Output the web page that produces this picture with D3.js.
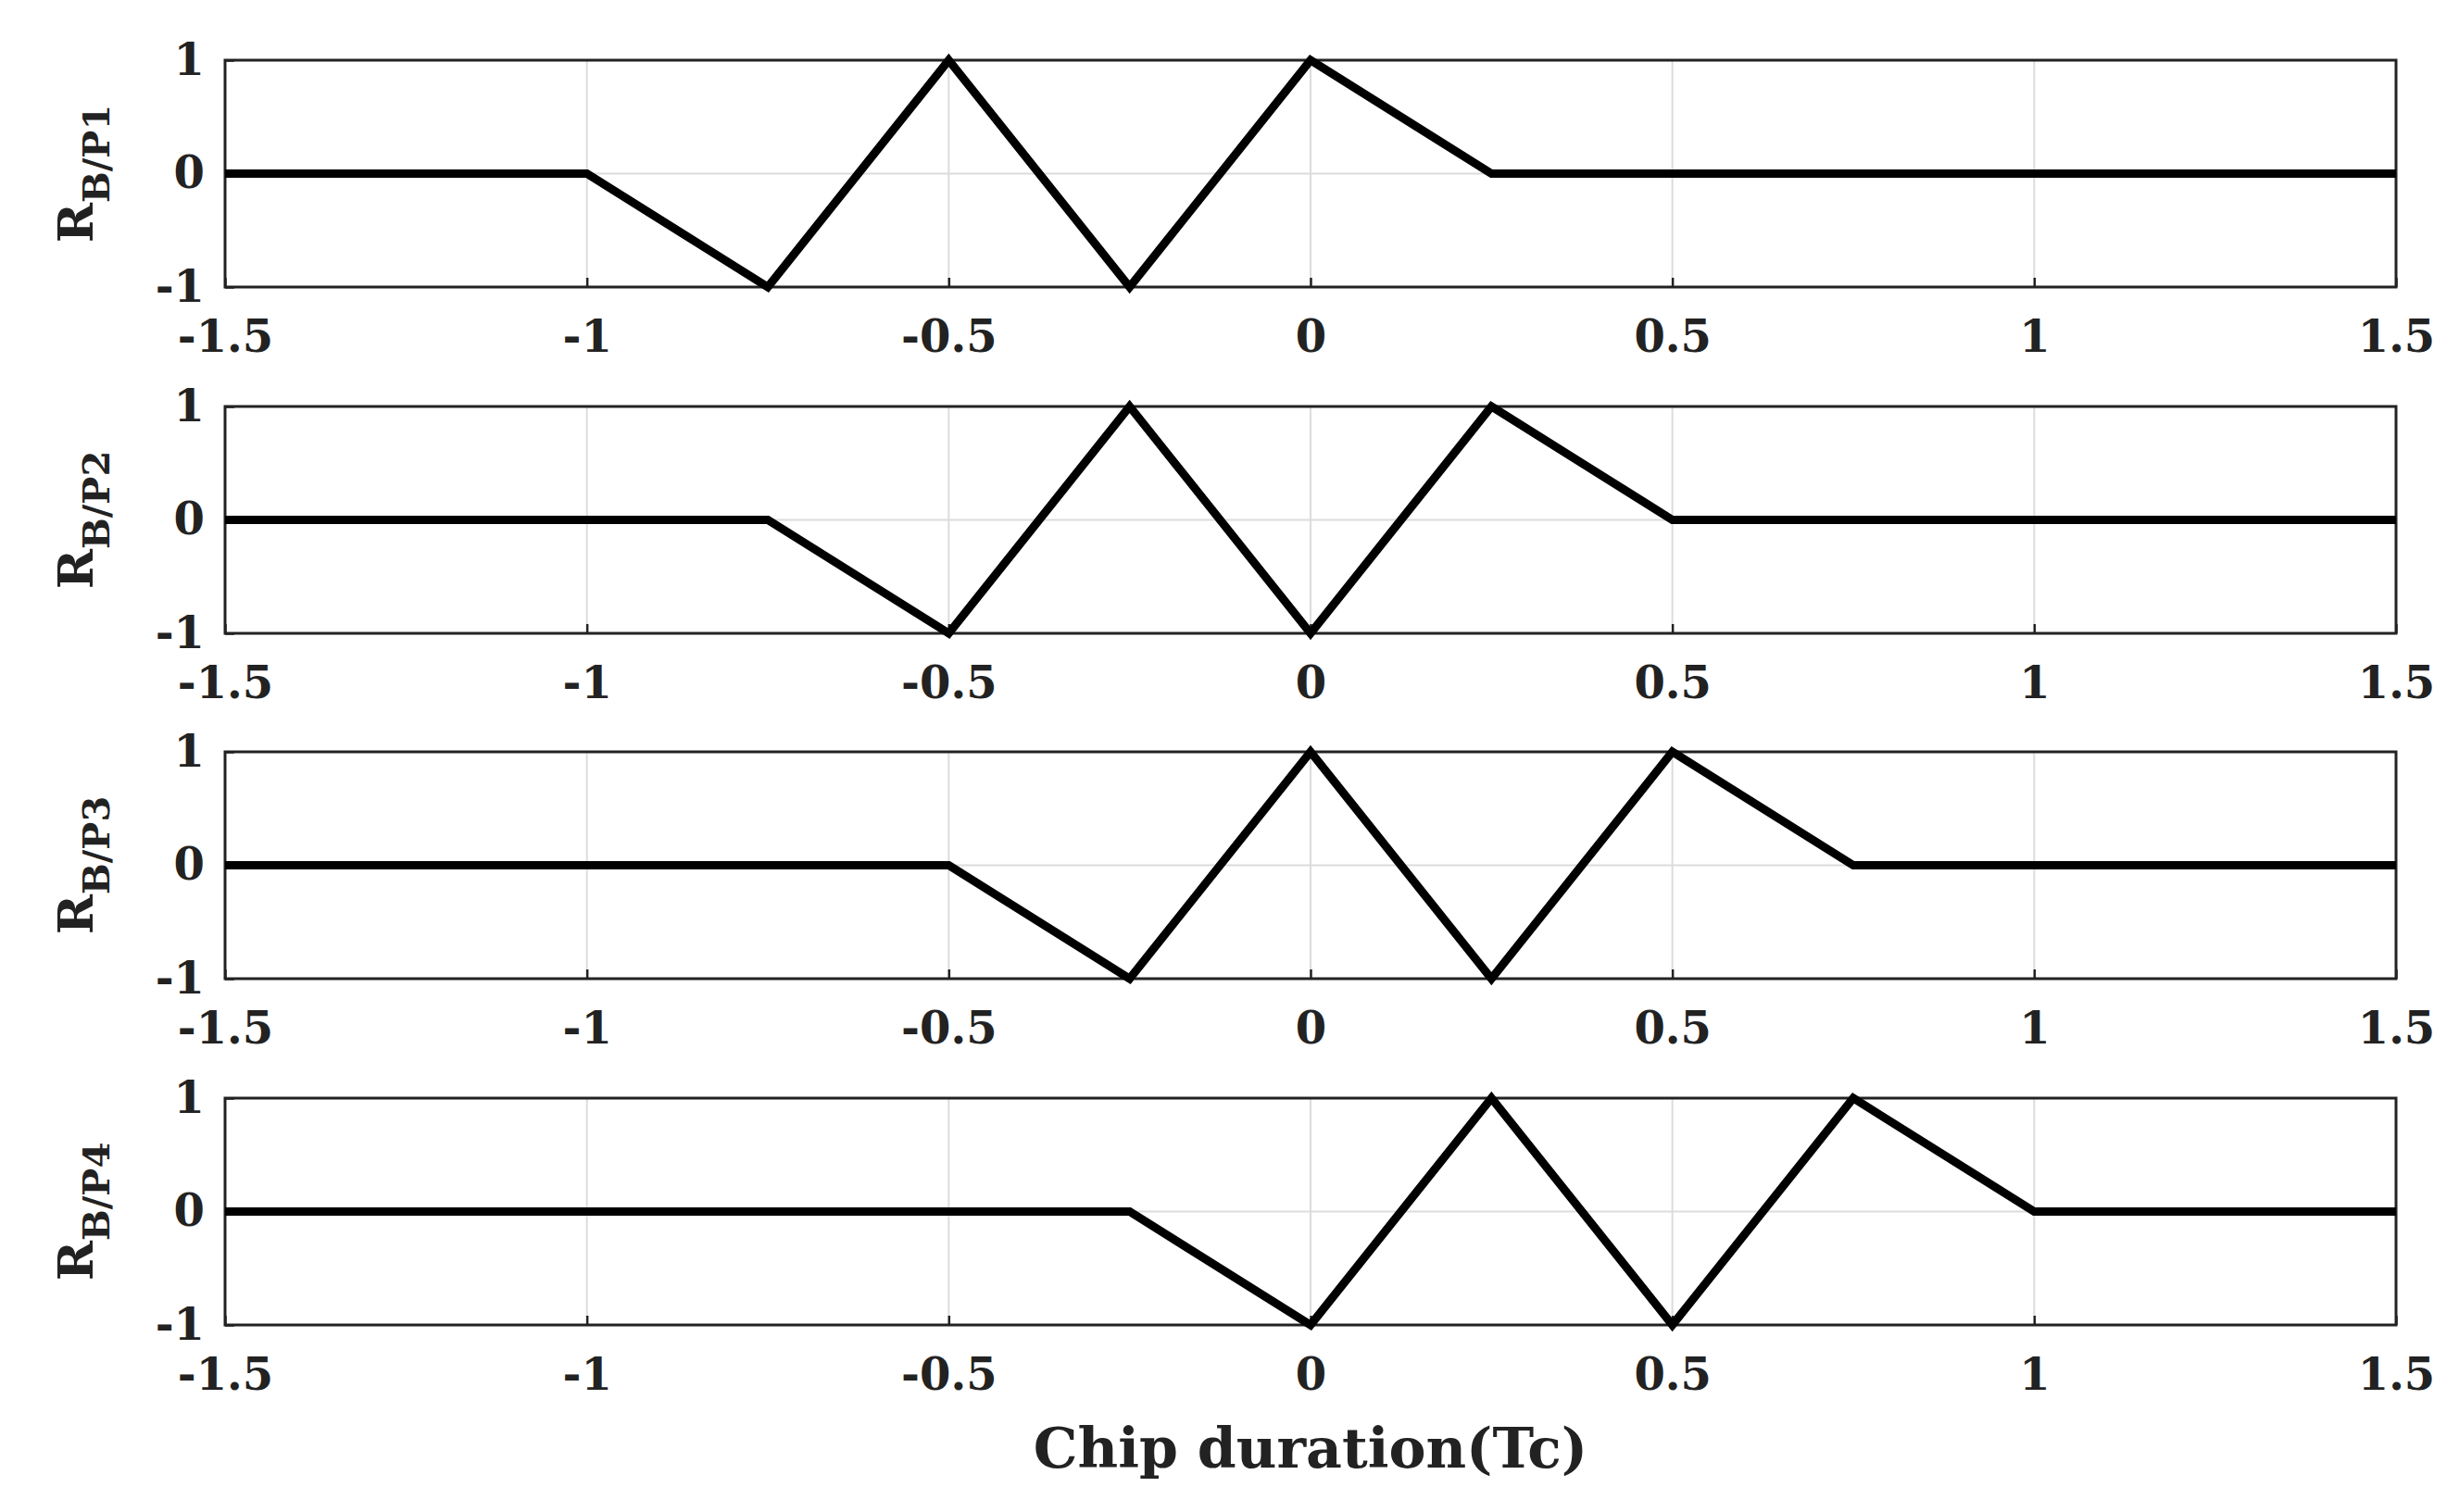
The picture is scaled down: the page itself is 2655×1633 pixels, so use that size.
<!DOCTYPE html>
<html><head><meta charset="utf-8">
<script src="https://cdn.jsdelivr.net/npm/d3@7"></script>
<style>body{margin:0;background:#fff}</style>
</head><body><div id="chart"></div>
<script>
// data
const xTicks = [-1.5, -1, -0.5, 0, 0.5, 1, 1.5];
const yTicks = [-1, 0, 1];
const labels = ["B/P1", "B/P2", "B/P3", "B/P4"];
const p1x = [-1.5, -1, -0.75, -0.5, -0.25, 0, 0.25, 1.5];
const p1y = [0, 0, -1, 1, -1, 1, 0, 0];
const p2x = [-1.5, -0.75, -0.5, -0.25, 0, 0.25, 0.5, 1.5];
const p2y = [0, 0, -1, 1, -1, 1, 0, 0];
const p3x = [-1.5, -0.5, -0.25, 0, 0.25, 0.5, 0.75, 1.5];
const p3y = [0, 0, -1, 1, -1, 1, 0, 0];
const p4x = [-1.5, -0.25, 0, 0.25, 0.5, 0.75, 1, 1.5];
const p4y = [0, 0, -1, 1, -1, 1, 0, 0];
const series = [[p1x, p1y], [p2x, p2y], [p3x, p3y], [p4x, p4y]];

const W = 2655, H = 1633;
const left = 243, right = 2587;
const tops = [65, 439, 812, 1186];
const ph = 245;
const font = "'DejaVu Serif', serif";

const svg = d3.select("#chart").append("svg").attr("width", W).attr("height", H)
    .style("font-family", font).style("font-weight", "bold");

const x = d3.scaleLinear().domain([-1.5, 1.5]).range([left, right]);

series.forEach(function(s, i) {
    const t = tops[i];
    const y = d3.scaleLinear().domain([-1, 1]).range([t + ph, t]);
    const g = svg.append("g");

    g.selectAll(".gx").data(xTicks).enter().append("line")
        .attr("x1", d => x(d)).attr("x2", d => x(d))
        .attr("y1", t).attr("y2", t + ph)
        .attr("stroke", "#dcdcdc").attr("stroke-width", 2);
    g.selectAll(".gy").data(yTicks).enter().append("line")
        .attr("x1", left).attr("x2", right)
        .attr("y1", d => y(d)).attr("y2", d => y(d))
        .attr("stroke", "#dcdcdc").attr("stroke-width", 2);

    const ax = g.append("g").attr("transform", "translate(0," + (t + ph) + ")")
        .call(d3.axisBottom(x).tickValues(xTicks).tickSize(-10).tickPadding(36).tickFormat(d => String(d)));
    const ay = g.append("g").attr("transform", "translate(" + left + ",0)")
        .call(d3.axisLeft(y).tickValues(yTicks).tickSize(-10).tickPadding(22).tickFormat(d => String(d)));
    [ax, ay].forEach(a => {
        a.select(".domain").remove();
        a.selectAll("line").attr("stroke", "#222").attr("stroke-width", 2.5);
        a.selectAll("text").attr("fill", "#222").style("font-size", "48px")
            .style("font-family", font).style("font-weight", "bold");
    });

    g.append("rect").attr("x", left).attr("y", t).attr("width", right - left).attr("height", ph)
        .attr("fill", "none").attr("stroke", "#222").attr("stroke-width", 3);

    const pts = s[0].map((v, k) => [v, s[1][k]]);
    g.append("path").datum(pts)
        .attr("d", d3.line().x(d => x(d[0])).y(d => y(d[1])))
        .attr("fill", "none").attr("stroke", "#000").attr("stroke-width", 9)
        .attr("stroke-linejoin", "miter");

    const lab = g.append("text")
        .attr("transform", "translate(100," + (t + ph / 2) + ") rotate(-90)")
        .attr("text-anchor", "middle").attr("fill", "#222").style("font-size", "52px");
    lab.append("tspan").text("R");
    lab.append("tspan").attr("dy", 18).style("font-size", "40px").text(labels[i]);
});

svg.append("text").attr("x", (left + right) / 2).attr("y", 1585)
    .attr("text-anchor", "middle").attr("fill", "#222").style("font-size", "60px")
    .text("Chip duration(Tc)");
</script></body></html>
